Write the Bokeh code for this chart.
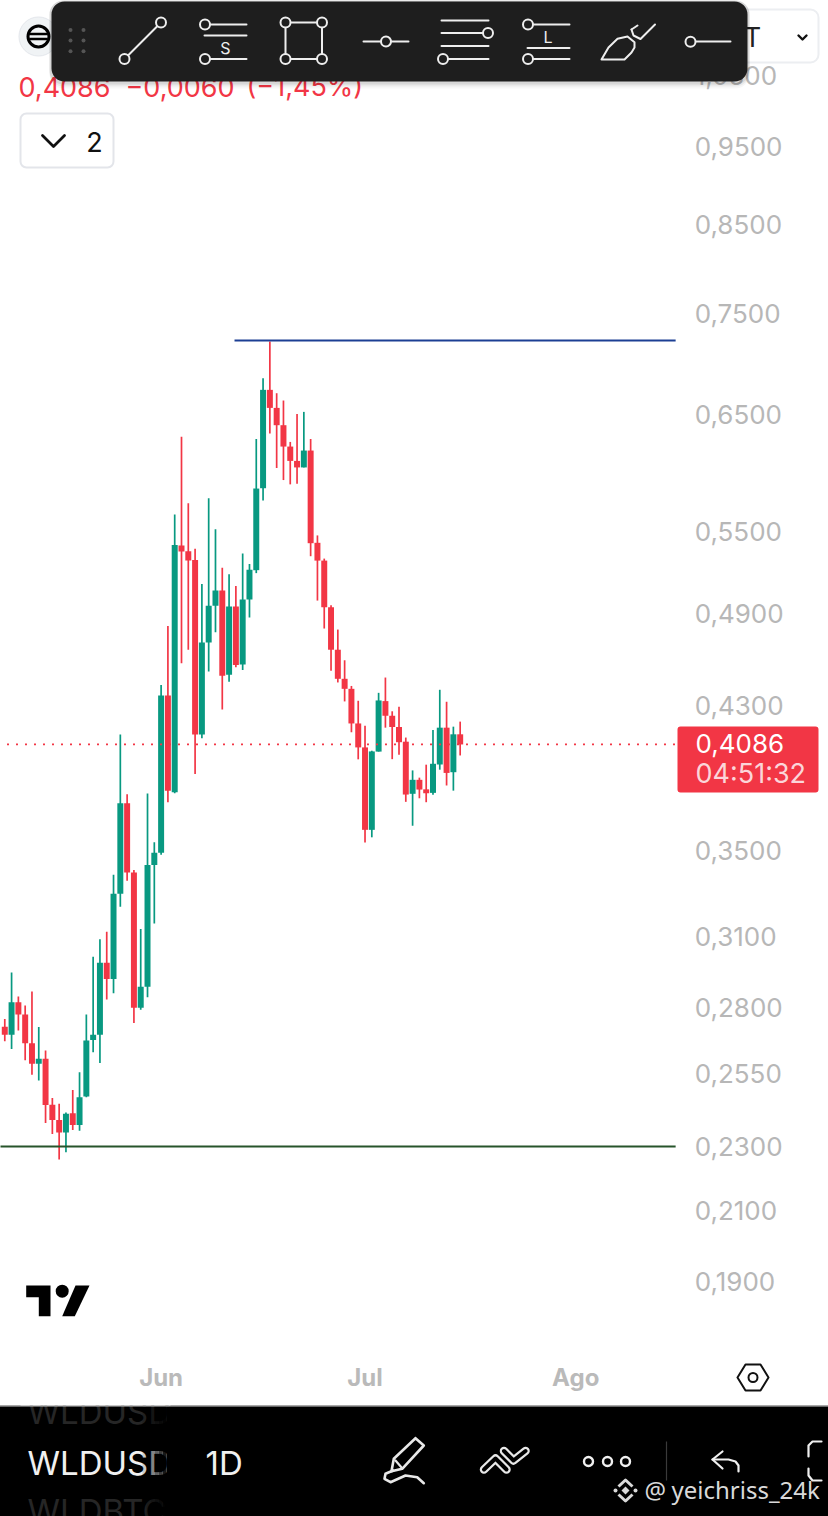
from bokeh.plotting import figure
from bokeh.models import Range1d, LinearScale, FixedTicker, ColumnDataSource
from bokeh.core.properties import value
from bokeh.embed import file_html
from bokeh.resources import INLINE

# ---- data (days relative to 1 June) ----
days = list(range(-23, 45))
opens = [.2726,.2695,.2822,.2774,.2663,.2586,.2605,.2440,.2388,.2346,.2411,.2371,.2469,.2675,.2695,.2985,.2917,.3292,.3743,.3392,
         .2800,.2885,.3429,.3489,.4361,.3801,.5394,.5351,.5285,.4126,.4701,.4952,.5060,.4490,.4947,.4556,.4996,.5209,.5851,.6727,
         .6557,.6398,.6207,.6082,.6026,.6172,.5415,.5280,.4942,.4653,.4465,.4402,.4191,.4051,.3604,.4027,.4326,.4237,.4170,.4084,
         .3793,.3869,.3817,.3798,.3954,.4166,.3911,.4127]
highs = [.2756,.2944,.2845,.2809,.2865,.2725,.2635,.2464,.2444,.2414,.2492,.2555,.2774,.3010,.3086,.3119,.3381,.4126,.3791,.3404,
         .3131,.3795,.3541,.4426,.4813,.5636,.6295,.5728,.5369,.5107,.5769,.5521,.5227,.5178,.5093,.5333,.5255,.6274,.6838,.7204,
         .6695,.6626,.6248,.6501,.6520,.6274,.5472,.5295,.4956,.4788,.4584,.4420,.4328,.4177,.4032,.4377,.4473,.4264,.4291,.4108,
         .3921,.3881,.3953,.4152,.4396,.4322,.4172,.4202]
lows = [.2670,.2641,.2711,.2599,.2546,.2526,.2378,.2341,.2258,.2281,.2354,.2352,.2466,.2629,.2589,.2833,.2858,.3232,.3353,.2740,
        .2792,.2842,.3156,.3479,.3748,.3796,.4564,.4653,.3901,.4104,.4512,.4769,.4275,.4447,.4538,.4521,.4871,.5187,.5750,.6323,
        .6021,.5919,.5883,.5889,.6026,.5313,.4989,.4795,.4516,.4442,.4324,.4139,.3983,.3540,.3566,.4027,.4166,.3984,.4009,.3750,
        .3625,.3769,.3748,.3788,.3925,.3838,.3810,.4005]
closes = [.2695,.2822,.2774,.2663,.2586,.2605,.2439,.2388,.2346,.2409,.2371,.2466,.2673,.2695,.2985,.2917,.3292,.3743,.3392,.2800,
          .2885,.3429,.3489,.4361,.3810,.5399,.5348,.5280,.4126,.4701,.4952,.5060,.4484,.4947,.4554,.4996,.5212,.5848,.6727,.6557,
          .6398,.6207,.6082,.6026,.6172,.5412,.5280,.4942,.4653,.4465,.4402,.4191,.4051,.3604,.4028,.4330,.4237,.4170,.4081,.3789,
          .3869,.3816,.3796,.3958,.4166,.3907,.4127,.4068]
price_ticks = [1.05, .95, .85, .75, .65, .55, .49, .43, .35, .31, .28, .255, .23, .21, .19]
price_labels = ["1,0500", "0,9500", "0,8500", "0,7500", "0,6500", "0,5500", "0,4900", "0,4300", "0,3500", "0,3100",
                "0,2800", "0,2550", "0,2300", "0,2100", "0,1900"]
month_ticks = [0, 30, 61]
month_labels = ["Jun", "Jul", "Ago"]
resistance = 0.7214
support = 0.2300
last_line = 0.4068

GREEN = "#089981"
RED = "#f23645"

p = figure(width=828, height=1516, output_backend="svg", toolbar_location=None,
           x_range=Range1d(-23.63, 98.19), y_range=Range1d(0.13608, 1.1686),
           y_axis_type="log", y_axis_location="right", min_border=0,
           background_fill_color="white", border_fill_color="white")
p.extra_x_ranges = {"px": Range1d(0, 828)}
p.extra_y_ranges = {"px": Range1d(1516, 0)}
p.extra_x_scales = {"px": LinearScale()}
p.extra_y_scales = {"px": LinearScale()}
p.grid.visible = False
p.outline_line_color = None

ya = p.yaxis[0]
ya.fixed_location = 76.3
ya.ticker = FixedTicker(ticks=price_ticks)
ya.major_label_overrides = dict(zip(price_ticks, price_labels))
ya.axis_line_color = None
ya.major_tick_line_color = None
ya.minor_tick_line_color = None
ya.major_label_standoff = 9
ya.major_label_text_font = "Inter"
ya.major_label_text_font_size = "26px"
ya.major_label_text_color = "#b7b7b7"

xa = p.xaxis[0]
xa.fixed_location = 0.1716
xa.ticker = FixedTicker(ticks=month_ticks)
xa.major_label_overrides = dict(zip(month_ticks, month_labels))
xa.axis_line_color = None
xa.major_tick_line_color = None
xa.minor_tick_line_color = None
xa.major_label_standoff = 4
xa.major_label_text_font = "Inter"
xa.major_label_text_font_style = "bold"
xa.major_label_text_font_size = "24px"
xa.major_label_text_color = "#bababa"

# ---- candles ----
src = ColumnDataSource(dict(
    d=days, o=opens, h=highs, l=lows, c=closes,
    top=[max(a, b) for a, b in zip(opens, closes)],
    bot=[min(a, b) for a, b in zip(opens, closes)],
    col=[RED if c < o else GREEN for o, c in zip(opens, closes)]))
p.segment("d", "h", "d", "l", source=src, line_color="col", line_width=1.7)
p.vbar("d", width=0.88, top="top", bottom="bot", source=src, fill_color="col", line_color=None)

# ---- level lines ----
p.segment([10.8], [resistance], [75.7], [resistance], line_color="#1c3f94", line_width=2)
p.segment([-24], [support], [75.7], [support], line_color="#27542b", line_width=2)
p.segment([-24], [last_line], [76.3], [last_line], line_color=RED, line_width=1.8, line_dash="2 7")

PX = dict(x_range_name="px", y_range_name="px", level="overlay")


def box(l, t, r, b, fill, line=None, radius=0, alpha=1.0, lw=1):
    p.quad(left=[l], right=[r], top=[t], bottom=[b], fill_color=fill, fill_alpha=alpha,
           line_color=line, line_width=lw, border_radius=radius, **PX)


def pl(xs, ys, color="#eeeeee", w=2.0, cap="round"):
    p.line(xs, ys, line_color=color, line_width=w, line_cap=cap, line_join="round", **PX)


def dot(x, y, size=10, fill="#1e1e1e", line="#eeeeee", w=2.0):
    p.scatter([x], [y], size=size, marker="circle", fill_color=fill, line_color=line, line_width=w, **PX)


def txt(x, y, s, size, color, align="left", font="Inter", style="normal", base="middle"):
    p.text([x], [y], text=[s], text_font=value(font), text_font_size=f"{size}px", text_color=color,
           text_align=align, text_baseline=base, text_font_style=style, **PX)


# ---- header under toolbar ----
txt(18, 86, "0,4086", 27, RED)
txt(125, 86, "\u22120,0060", 27, RED)
txt(246, 86, "(\u22121,45%)", 27, RED)
box(20, 113, 113, 167, "white", "#e3e5ea", 6, lw=2)
pl([42, 53, 64], [135, 146, 135], "#111111", 2.8)
txt(94, 141, "2", 27, "#111111", "center")
dot(38, 36, 39, "#f0f3f5", "#e4e7ec", 1)
dot(38, 36, 21, "#f0f3f5", "#000000", 3)
pl([30, 46], [33.5, 33.5], "#000000", 2.4)
pl([30, 46], [38.5, 38.5], "#000000", 2.4)
box(700, 9, 818, 62, "white", "#eceef1", 8, lw=2)
txt(752, 37, "T", 27, "#222222", "center")
pl([798, 802, 806], [35, 39, 35], "#111111", 2.4)

# ---- drawing toolbar ----
for k, a in [(6, .03), (4, .05), (2, .08)]:
    box(49, 0, 749, 82 + k, "#000000", None, 14, a)
box(51, 1, 747, 81, "#1e1e1e", None, 13)
for x in (70, 83):
    for y in (29.5, 40, 50.7):
        dot(x, y, 4, "#555555", "#555555", 0)
# trend line
pl([124, 160.5], [58.5, 22])
dot(124, 58.5)
dot(160.5, 22)
# S channel
pl([204, 246], [24, 24])
pl([204, 246], [35, 35])
pl([204, 246], [58.5, 58.5])
dot(204.5, 24)
dot(204.5, 58.5)
txt(225, 47.5, "S", 16, "#eeeeee", "center")
# rectangle
pl([285, 321.5, 321.5, 285, 285], [22, 22, 58.5, 58.5, 22])
for cx, cy in [(285, 22), (321.5, 22), (285, 58.5), (321.5, 58.5)]:
    dot(cx, cy)
# price line
pl([363, 408], [41, 41])
dot(385.5, 41)
# four lines
pl([441, 488], [20, 20])
pl([441, 484], [32.5, 32.5])
pl([441, 488], [45.5, 45.5])
pl([442, 488], [58.5, 58.5])
dot(487.5, 32.5)
dot(442.5, 58.5)
# L channel
pl([527, 569], [24, 24])
pl([527, 569], [47.5, 47.5])
pl([527, 569], [58.5, 58.5])
dot(527.5, 24)
dot(527.5, 58.5)
txt(547.5, 36, "L", 16, "#eeeeee", "center")
# brush
pl([601, 608, 617, 627, 634, 634, 631, 624, 601], [59, 47, 38.3, 36, 41.7, 47, 52, 59, 59])
pl([631, 633, 640, 654.5], [29, 35, 38.5, 24])
pl([631, 637], [29, 25])
# ray
pl([690, 730], [41, 41])
dot(690, 41.3)

# ---- price tag ----
box(677, 726, 818, 792, RED, None, 3)
txt(695, 743, "0,4086", 26, "#ffffff")
txt(695, 773, "04:51:32", 27, "#fbd5d9")

# ---- TradingView mark ----
p.patch([25.7, 50, 50, 38.3, 38.3, 25.7], [1285, 1285, 1315.7, 1315.7, 1296.7, 1296.7],
        fill_color="#000000", line_color=None, **PX)
p.patch([75, 89, 74.3, 61.7], [1285, 1285, 1315.7, 1315.7], fill_color="#000000", line_color=None, **PX)
dot(61.7, 1290.7, 13, "#000000", "#000000", 0)

# ---- settings hexagon ----
pl([737, 745, 760, 768, 760, 745, 737], [1377, 1364, 1364, 1377, 1390, 1390, 1377], "#111111", 2)
dot(752.5, 1377, 9, "white", "#111111", 2)

# ---- bottom bar ----
box(-2, 1405, 830, 1518, "#000000", None)
txt(27, 1411, "WLDUSD", 33, "#262626")
txt(27, 1510, "WLDBTC", 33, "#262626")
txt(27, 1462, "WLDUSD", 33, "#f0f0f0")
for k in range(6):
    box(142 + 4 * k, 1406, 146 + 4 * k, 1518, "#000000", None, 0, 0.15 + 0.15 * k)
box(166, 1406, 195, 1518, "#000000", None)
box(20, 1396, 170, 1405, "white", None)
pl([-2, 830], [1405.5, 1405.5], "#cfcfcf", 1.2, "butt")
txt(205, 1462, "1D", 33, "#f0f0f0")
# pencil
pl([415, 423.3, 401.7, 391, 393.3, 415], [1437.7, 1445, 1468.3, 1470.7, 1458.3, 1437.7], "#e8e8e8", 2.6)
pl([395, 401.7], [1460, 1467.7], "#e8e8e8", 2.2)
pl([392.7, 385, 384, 390, 405, 416.7, 423.3], [1470, 1473.3, 1478.3, 1481.7, 1475, 1476.7, 1482.7], "#e8e8e8", 2.6)
# two peaks
pl([483.5, 495, 506], [1469, 1458, 1469], "#e8e8e8", 8.5)
pl([503.5, 513, 525], [1450.5, 1460, 1450.5], "#e8e8e8", 8.5)
pl([483.5, 495, 506], [1469, 1458, 1469], "#000000", 4)
pl([503.5, 513, 525], [1450.5, 1460, 1450.5], "#000000", 4)
# three dots
for x in (588, 607, 625):
    dot(x, 1461, 9, "#000000", "#f0f0f0", 2.4)
pl([666, 666], [1441, 1480], "#3a3a3a", 1.2, "butt")
# undo
pl([722, 712, 722], [1451, 1459, 1468], "#f0f0f0", 2.2)
pl([712, 728, 735, 738, 738], [1459, 1459, 1461, 1465, 1471], "#f0f0f0", 2.2)
# bracket
pl([821, 812, 808, 808], [1441, 1441, 1445, 1456], "#f0f0f0", 2.2)
pl([808, 808, 812, 821], [1468, 1475, 1480, 1480], "#f0f0f0", 2.2)
# watermark
wm = "#d9d9d9"
p.patch([625, 629, 625, 621], [1486, 1490, 1494, 1490], fill_color=wm, line_color=None, **PX)
pl([618, 625, 632], [1486, 1479.5, 1486], wm, 3, "butt")
pl([618, 625, 632], [1494, 1500.5, 1494], wm, 3, "butt")
dot(615, 1490, 4, wm, wm, 0)
dot(635, 1490, 4, wm, wm, 0)
txt(644, 1489, "@", 24, wm, font="Noto Sans")
txt(671, 1489, "yeichriss_24k", 24, wm, font="Noto Sans")

open("out.html", "w").write(file_html(p, INLINE))
